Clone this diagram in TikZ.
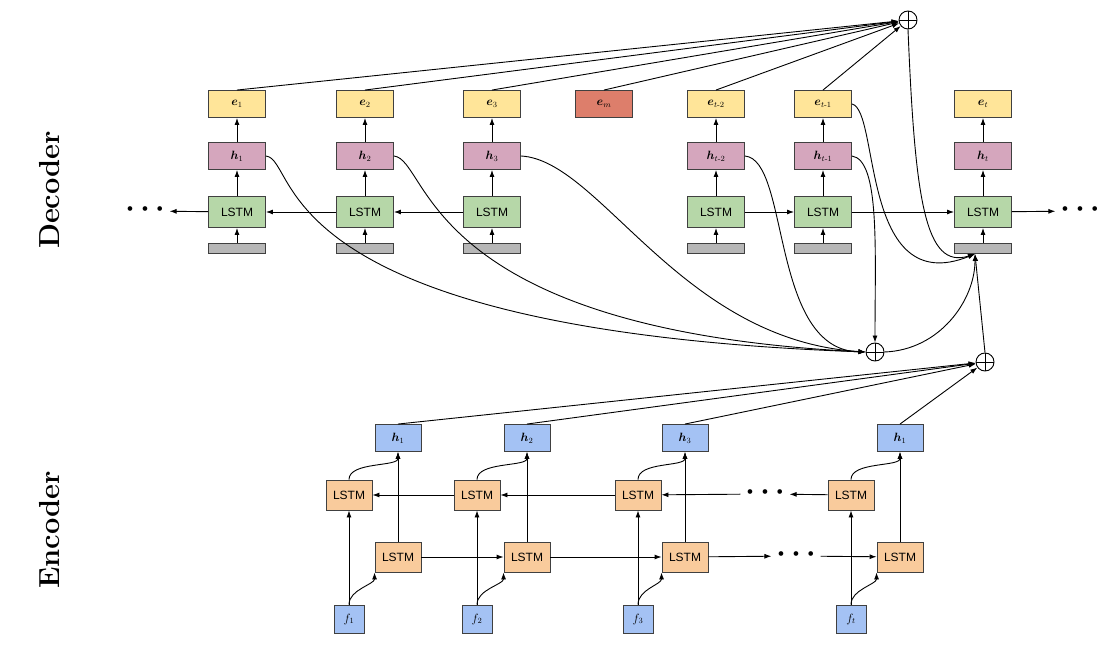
\documentclass[tikz,border=0pt]{standalone}
\usepackage{fontspec}
\usepackage{amsmath,bm}
\setsansfont{Liberation Sans}
\usetikzlibrary{arrows.meta}
\definecolor{cy}{HTML}{FFE599}\definecolor{cp}{HTML}{D5A6BD}\definecolor{cg}{HTML}{B6D7A8}
\definecolor{cr}{HTML}{DD7E6B}\definecolor{cgr}{HTML}{B7B7B7}\definecolor{cb}{HTML}{A4C2F4}
\definecolor{co}{HTML}{F9CB9C}
\begin{document}
\begin{tikzpicture}[x=1pt,y=-1pt,
 box/.style={draw=black!75,line width=0.9pt,minimum width=57pt,minimum height=27pt,inner sep=0pt},
 eb/.style={box,fill=cy,font=\large},
 hb/.style={box,fill=cp,font=\large},
 lb/.style={box,fill=cg,minimum height=31pt,font=\sffamily\large},
 gb/.style={box,fill=cgr,minimum height=10pt},
 ob/.style={box,fill=co,minimum width=46pt,minimum height=30pt,font=\sffamily\large},
 bb/.style={box,fill=cb,minimum width=46pt,font=\large},
 fb/.style={box,fill=cb,minimum width=30pt,minimum height=28pt,font=\large},
 pl/.style={circle,draw,line width=0.9pt,minimum size=18pt,inner sep=0pt,path picture={\draw (path picture bounding box.north)--(path picture bounding box.south) (path picture bounding box.west)--(path picture bounding box.east);}},
 dots/.style={font=\huge,inner sep=2pt},
 ar/.style={-{Latex[length=7pt,width=5pt]},line width=0.9pt}]
\useasboundingbox (0,0) rectangle (1106,668);
\node[rotate=90,font=\fontsize{29}{29}\selectfont\bfseries] at (50,190) {Decoder};
\node[rotate=90,font=\fontsize{29}{29}\selectfont\bfseries] at (50,530) {Encoder};
% decoder
\foreach \n/\x/\e in {1/237/1,2/365/2,3/492/3,4/716/{t\text{-}2},5/823/{t\text{-}1},6/983/t}{
 \node[eb] (e\n) at (\x,104) {$\bm{e}_{\e}$};
 \node[hb] (h\n) at (\x,156) {$\bm{h}_{\e}$};
 \node[lb] (l\n) at (\x,212) {LSTM};
 \node[gb] (g\n) at (\x,248) {};
 \draw[ar] (g\n) -- (l\n); \draw[ar] (l\n) -- (h\n); \draw[ar] (h\n) -- (e\n);
}
\node[box,fill=cr,font=\large] (em) at (604,104) {$\bm{e}_m$};
\node[dots] (dl) at (145,211) {\textbullet\textbullet\textbullet};
\node[dots] (dr) at (1080,211) {\textbullet\textbullet\textbullet};
\draw[ar] (l3)--(l2); \draw[ar] (l2)--(l1); \draw[ar] (l1)--(dl);
\draw[ar] (l4)--(l5); \draw[ar] (l5)--(l6); \draw[ar] (l6)--(dr);
\node[pl] (pt) at (908,20) {};
\node[pl] (pm) at (875,352) {};
\node[pl] (pb) at (985,362) {};
\foreach \n in {e1,e2,e3,em,e4,e5} \draw[ar] (\n.north) -- (pt);
\coordinate (gin) at (975,254);
\draw[ar] (pt.south) .. controls (915,200) and (925,270) .. (gin);
\draw[ar] (e5.east) .. controls (880,110) and (860,300) .. (gin);
\draw[ar] (pm.east) .. controls (940,350) and (975,300) .. (gin);
\draw[ar] (pb.north) -- (gin);
\draw[ar] (h1.east) .. controls (300,160) and (260,330) .. (pm.west);
\draw[ar] (h2.east) .. controls (430,160) and (420,330) .. (pm.west);
\draw[ar] (h3.east) .. controls (600,160) and (680,340) .. (pm.west);
\draw[ar] (h4.east) .. controls (790,160) and (770,350) .. (pm.west);
\draw[ar] (h5.east) .. controls (880,160) and (875,250) .. (pm.north);
% encoder
\foreach \n/\xa/\xb/\hh/\f in {1/349/398/1/1,2/477/527/2/2,3/638/685/3/3,4/851/900/1/t}{
 \node[bb] (eh\n) at (\xb,438) {$\bm{h}_{\hh}$};
 \node[ob] (ua\n) at (\xa,495) {LSTM};
 \node[ob] (la\n) at (\xb,557) {LSTM};
 \node[fb] (f\n) at (\xa,619) {$f_{\f}$};
 \draw[ar] (f\n) -- (ua\n);
 \draw[ar] (f\n.north) .. controls +(0,-15) and +(0,12) .. (la\n.south west);
 \draw[ar] (la\n) -- (eh\n);
 \draw[ar] (ua\n.north) .. controls +(0,-18) and +(0,15) .. (eh\n.south);
 \draw[ar] (eh\n.north) -- (pb);
}
\node[dots] (du) at (765,494) {\textbullet\textbullet\textbullet};
\node[dots] (dd) at (796,556) {\textbullet\textbullet\textbullet};
\draw[ar] (ua4)--(du); \draw[ar] (du)--(ua3); \draw[ar] (ua3)--(ua2); \draw[ar] (ua2)--(ua1);
\draw[ar] (la1)--(la2); \draw[ar] (la2)--(la3); \draw[ar] (la3)--(dd); \draw[ar] (dd)--(la4);
\end{tikzpicture}
\end{document}
